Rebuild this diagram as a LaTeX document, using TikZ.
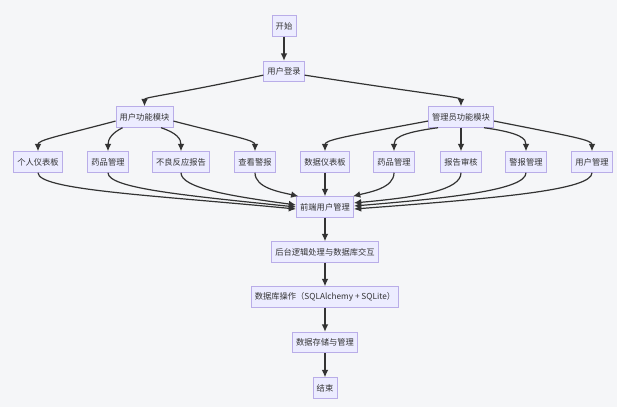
\documentclass[tikz,border=0pt]{standalone}
\usepackage{fontspec}
\newfontfamily\cjk{Noto Sans CJK SC}
\usetikzlibrary{arrows.meta}
\definecolor{boxfill}{HTML}{ECECFF}
\definecolor{boxline}{HTML}{B9ADE8}
\definecolor{edgecol}{HTML}{333333}
\definecolor{pagebg}{HTML}{F5F6F8}

\begin{document}
\begin{tikzpicture}[
    x=0.75pt, y=-0.75pt,
    box/.style={draw=boxline, fill=boxfill, text=edgecol, line width=0.6pt, minimum height=15.5pt,
                inner xsep=2.8pt, inner ysep=0pt, font=\cjk\fontsize{6.2}{7}\selectfont},
    flow/.style={-{Latex[length=5.5pt,width=5pt]}, line width=0.9pt, draw=edgecol}
]

\fill[pagebg] (0,0) rectangle (617,407);
\useasboundingbox (0,0) rectangle (617,407);

\node[box] (start) at (284,26)    {开始};
\node[box] (login) at (284,71.5)  {用户登录};
\node[box] (user)  at (144.5,117) {用户功能模块};
\node[box] (admin) at (461,117)   {管理员功能模块};

\node[box] (dash)   at (38,162)  {个人仪表板};
\node[box] (drugu)  at (108,162) {药品管理};
\node[box] (adr)    at (181,162) {不良反应报告};
\node[box] (alert)  at (255,162) {查看警报};
\node[box] (data)   at (325,162) {数据仪表板};
\node[box] (druga)  at (394,162) {药品管理};
\node[box] (review) at (461,162) {报告审核};
\node[box] (alarm)  at (526,162) {警报管理};
\node[box] (users)  at (592,162) {用户管理};

\node[box] (front) at (325,207)   {前端用户管理};
\node[box] (back)  at (325,252)   {后台逻辑处理与数据库交互};
\node[box] (db)    at (325,297)   {数据库操作（SQLAlchemy + SQLite）};
\node[box] (store) at (325,342.5) {数据存储与管理};
\node[box] (end)   at (325,388)   {结束};

\draw[flow] (start) -- (login);
\draw[flow] (login.190) .. controls (165,96) and (144.5,97) .. (user.north);
\draw[flow] (login.-10) .. controls (440,96) and (461,97) .. (admin.north);

\draw[flow] (user.188) .. controls (55,137) and (38,140) .. (dash.north);
\draw[flow] (user.206) .. controls (112,133) and (108,139) .. (drugu.north);
\draw[flow] (user.-33) .. controls (177,133) and (181,139) .. (adr.north);
\draw[flow] (user.-8) .. controls (235,137) and (255,140) .. (alert.north);

\draw[flow] (admin.187) .. controls (342,137) and (325,140) .. (data.north);
\draw[flow] (admin.205) .. controls (398,133) and (394,139) .. (druga.north);
\draw[flow] (admin.south) -- (review.north);
\draw[flow] (admin.-25) .. controls (522,133) and (526,139) .. (alarm.north);
\draw[flow] (admin.-7) .. controls (575,137) and (592,140) .. (users.north);

\draw[flow] (dash.south) .. controls (38,190) and (150,195) .. (front.184);
\draw[flow] (drugu.south) .. controls (108,188) and (180,195) .. (front.180);
\draw[flow] (adr.south) .. controls (181,188) and (230,196) .. (front.176);
\draw[flow] (alert.south) .. controls (255,188) and (280,192) .. (front.158);
\draw[flow] (data) -- (front);
\draw[flow] (druga.south) .. controls (394,188) and (370,192) .. (front.21);
\draw[flow] (review.south) .. controls (461,190) and (420,197) .. (front.8);
\draw[flow] (alarm.south) .. controls (526,190) and (450,198) .. (front.2);
\draw[flow] (users.south) .. controls (592,190) and (500,198) .. (front.-4);

\draw[flow] (front) -- (back);
\draw[flow] (back) -- (db);
\draw[flow] (db) -- (store);
\draw[flow] (store) -- (end);

\end{tikzpicture}
\end{document}
